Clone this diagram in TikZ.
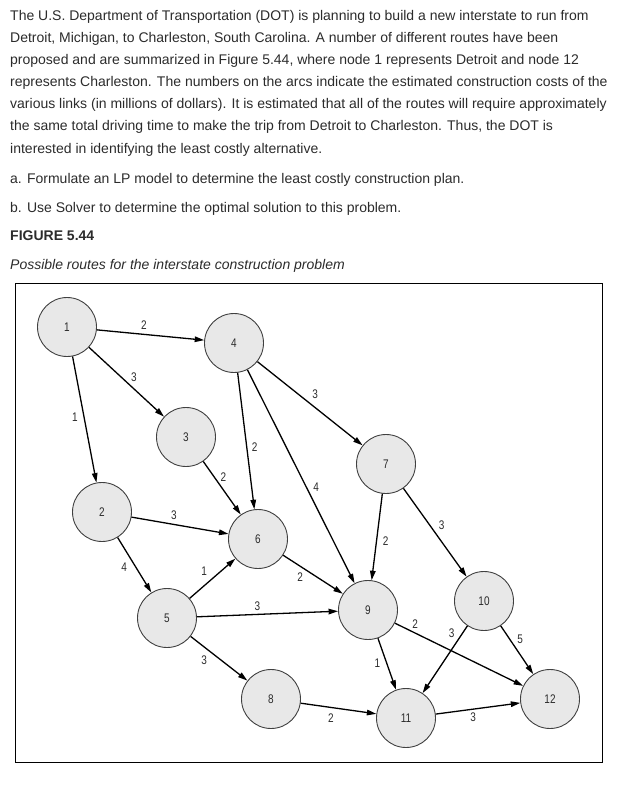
\documentclass[tikz,border=0pt]{standalone}
\usepackage{fontspec}
\setmainfont{Liberation Sans}
\newfontfamily\narrowsf{Liberation Sans}[FakeStretch=0.8]
\usetikzlibrary{arrows.meta}
\definecolor{textgray}{HTML}{2B2B2B}
\definecolor{cityfill}{HTML}{E8E8E8}

\begin{document}
\begin{tikzpicture}[x=1pt, y=-1pt,
  city/.style = {circle, draw=black!75, fill=cityfill, line width=0.9pt, minimum size=59pt, inner sep=0pt, font=\narrowsf\fontsize{12.5}{12.5}\selectfont, text=textgray},
  link/.style = {line width=1.3pt, -{Triangle[length=9.5pt, width=5.5pt]}},
  cost/.style = {font=\narrowsf\fontsize{12.5}{12.5}\selectfont, text=textgray, inner sep=0pt, anchor=center},
  para/.style = {anchor=base west, inner sep=0pt, font=\fontsize{14}{16}\selectfont, text=textgray}
  ]
\useasboundingbox (0,0) rectangle (634,789);

% Problem statement
\node[para] (l1) at (10,21) {The U.S. Department of Transportation (DOT) is planning to build a new interstate to run from};
\node[para] (l2) at (10,43) {Detroit, Michigan, to Charleston, South Carolina. A number of different routes have been};
\node[para] (l3) at (10,65) {proposed and are summarized in Figure 5.44, where node 1 represents Detroit and node 12};
\node[para] (l4) at (10,87) {represents Charleston. The numbers on the arcs indicate the estimated construction costs of the};
\node[para] (l5) at (10,109) {various links (in millions of dollars). It is estimated that all of the routes will require approximately};
\node[para] (l6) at (10,131) {the same total driving time to make the trip from Detroit to Charleston. Thus, the DOT is};
\node[para] (l7) at (10,153) {interested in identifying the least costly alternative.};
\node[para] (qa) at (10,183) {a. Formulate an LP model to determine the least costly construction plan.};
\node[para] (qb) at (10,212) {b. Use Solver to determine the optimal solution to this problem.};
\node[para, font=\fontsize{14}{16}\selectfont\bfseries] (fig) at (10,240.5) {FIGURE 5.44};
\node[para, font=\fontsize{14}{16}\selectfont\itshape] (cap) at (10,269) {Possible routes for the interstate construction problem};

% Frame
\draw[line width=0.9pt] (15,283) rectangle (602,762);

% Cities
\node[city] (n1) at (67,327) {1};
\node[city] (n2) at (102,512) {2};
\node[city] (n3) at (186,437) {3};
\node[city] (n4) at (234,343) {4};
\node[city] (n5) at (167,618) {5};
\node[city] (n6) at (258,539) {6};
\node[city] (n7) at (386,464) {7};
\node[city] (n8) at (271,699) {8};
\node[city] (n9) at (368,610) {9};
\node[city] (n10) at (484,601) {10};
\node[city] (n11) at (406,718) {11};
\node[city] (n12) at (550,699) {12};

% Links with costs
\draw[link] (n1) -- node[cost, pos=0.47, xshift=-9pt, yshift=-1.3pt] {1} (n2);
\draw[link] (n1) -- node[cost, pos=0.52, xshift=6pt, yshift=6.4pt] {3} (n3);
\draw[link] (n1) -- node[cost, pos=0.43, xshift=1pt, yshift=9.3pt] {2} (n4);
\draw[link] (n4) -- node[cost, pos=0.55, xshift=7.8pt, yshift=1pt] {2} (n6);
\draw[link] (n4) -- node[cost, pos=0.57, xshift=7.6pt, yshift=3.9pt] {4} (n9);
\draw[link] (n4) -- node[cost, pos=0.49, xshift=6.3pt, yshift=8pt] {3} (n7);
\draw[link] (n3) -- node[cost, pos=0.37, xshift=6.2pt, yshift=4.4pt] {2} (n6);
\draw[link] (n2) -- node[cost, pos=0.42, xshift=1.6pt, yshift=9.2pt] {3} (n6);
\draw[link] (n2) -- node[cost, pos=0.44, xshift=-8.4pt, yshift=-5.2pt] {4} (n5);
\draw[link] (n5) -- node[cost, pos=0.47, xshift=-7pt, yshift=8.1pt] {1} (n6);
\draw[link] (n6) -- node[cost, pos=0.37, xshift=-5.2pt, yshift=-8pt] {2} (n9);
\draw[link] (n5) -- node[cost, pos=0.43, xshift=-0.3pt, yshift=8.4pt] {3} (n9);
\draw[link] (n5) -- node[cost, pos=0.35, xshift=-6.4pt, yshift=-8.2pt] {3} (n8);
\draw[link] (n8) -- node[cost, pos=0.42, xshift=-1.5pt, yshift=-10.7pt] {2} (n11);
\draw[link] (n7) -- node[cost, pos=0.53, xshift=9pt, yshift=-1.1pt] {2} (n9);
\draw[link] (n7) -- node[cost, pos=0.48, xshift=8pt, yshift=5.7pt] {3} (n10);
\draw[link] (n9) -- node[cost, pos=0.13, xshift=3.7pt, yshift=7.5pt] {2} (n12);
\draw[link] (n9) -- node[cost, pos=0.43, xshift=-8.4pt, yshift=-3pt] {1} (n11);
\draw[link] (n10) -- node[cost, pos=0.18, xshift=-7.7pt, yshift=5.2pt] {3} (n11);
\draw[link] (n10) -- node[cost, pos=0.38, xshift=7pt, yshift=4.7pt] {5} (n12);
\draw[link] (n11) -- node[cost, pos=0.43, xshift=1.1pt, yshift=-8pt] {3} (n12);
\end{tikzpicture}
\end{document}
